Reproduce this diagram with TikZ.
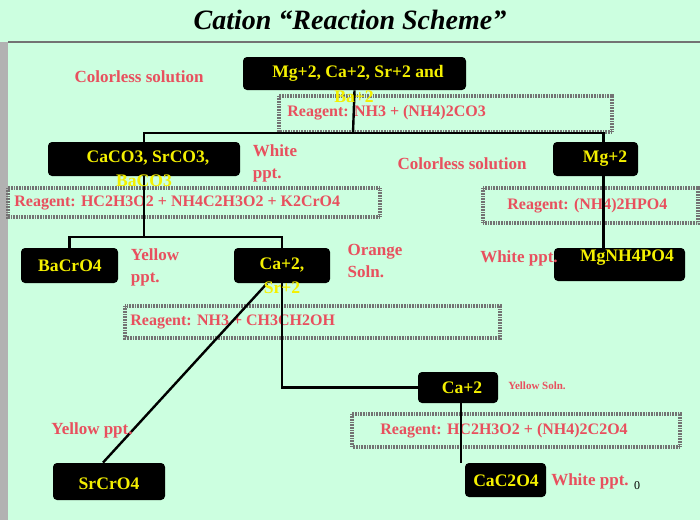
\documentclass[tikz,border=0pt]{standalone}
\usepackage{fontspec}
\setmainfont{Liberation Serif}
\definecolor{mint}{HTML}{CCFFE0}
\definecolor{salmon}{HTML}{E8505E}
\definecolor{ionyel}{HTML}{F4F000}
\begin{document}
\begin{tikzpicture}[x=0.5pt,y=-0.5pt]
	\tikzset{ion/.style={fill=black, rounded corners=2pt, inner sep=0pt},
        ionlbl/.style={text=ionyel, font=\bfseries\fontsize{8.8}{10}\selectfont, inner sep=0pt},
        note/.style={text=salmon, font=\bfseries\fontsize{8.5}{11}\selectfont, inner sep=0pt, align=left},
        reag/.style={draw=black!55, line width=1.6pt, dash pattern=on 0.4pt off 0.4pt},
        rlbl/.style={text=salmon, font=\bfseries\fontsize{8}{9}\selectfont, inner sep=0pt, anchor=west},
        link/.style={line width=1.2pt}
     }
	\useasboundingbox (0,0) rectangle (700,520);
	\fill[mint] (0,0) rectangle (700,520);
	\fill[black!30] (0,42) rectangle (8,520);
	\draw[black!55, line width=1pt] (8,42) -- (700,42);
	\node (title) at (350,20) {\bfseries\itshape\fontsize{14}{16}\selectfont Cation “Reaction Scheme”};
	
	% reagent boxes
	\draw[reag] (279,96) rectangle (612,132);
	\draw[reag] (8,188) rectangle (380,217);
	\draw[reag] (483,188) rectangle (698,223);
	\draw[reag] (125,306) rectangle (500,338);
	\draw[reag] (352,414) rectangle (680,447);
	\node[rlbl] (r1) at (287,113) {Reagent: NH3 + (NH4)2CO3};
	\node[rlbl] (r2) at (14,203) {Reagent: HC2H3O2 + NH4C2H3O2 + K2CrO4};
	\node[rlbl] (r3) at (507,206) {Reagent: (NH4)2HPO4};
	\node[rlbl] (r4) at (130,322) {Reagent: NH3 + CH3CH2OH};
	\node[rlbl] (r5) at (380,431) {Reagent: HC2H3O2 + (NH4)2C2O4};
	
	% ion boxes
	\node[ion, minimum width=111.5pt, minimum height=16.5pt] (all) at (354.5,73.5) {};
	\node[ion, minimum width=96pt, minimum height=17pt] (carb) at (144,159) {};
	\node[ion, minimum width=42.5pt, minimum height=17pt] (mg) at (595.5,159) {};
	\node[ion, minimum width=48.5pt, minimum height=17.5pt] (bacro) at (69.5,265.5) {};
	\node[ion, minimum width=48pt, minimum height=17.5pt] (casr) at (282,265.5) {};
	\node[ion, minimum width=65.5pt, minimum height=16.5pt] (mgpo) at (619.5,264.5) {};
	\node[ion, minimum width=40pt, minimum height=15.5pt] (ca) at (458,387.5) {};
	\node[ion, minimum width=40.5pt, minimum height=17pt] (cacox) at (505.5,480) {};
	\node[ion, minimum width=56pt, minimum height=18.5pt] (srcro) at (109,481.5) {};
	
	% connectors
	\coordinate (j1) at (353,133);
	\coordinate (j2) at (144,237);
	\coordinate (j3) at (282,387.5);
	\draw[link] (all.south) -- (j1);
	\draw[link] (carb.north) |- (j1) -| ([xshift=4pt]mg.north);
	\draw[link] (carb.south) -- (j2);
	\draw[link] (bacro.north) |- (j2) -| (casr.north);
	\draw[link] ([xshift=4pt]mg.south) -- ([xshift=4pt]mg.south |- mgpo.north);
	\draw[link] (casr.south) -- (j3) -- (ca.west);
	\draw[link] ([xshift=-7.5pt]casr.south) -- (srcro.north -| 103,0);
	\draw[link] ([xshift=1.5pt]ca.south) -- ([xshift=1.5pt]ca.south |- cacox.north);
	
	% ion labels
	\node[ionlbl] (l1) at (358,73) {Mg+2, Ca+2, Sr+2 and};
	\node[ionlbl] (l1b) at (354,97) {Ba+2};
	\node[ionlbl] (l2) at (148,158) {CaCO3, SrCO3,};
	\node[ionlbl] (l2b) at (144,181) {BaCO3};
	\node[ionlbl] (l3) at (605,159) {Mg+2};
	\node[ionlbl] (l4) at (70,266) {BaCrO4};
	\node[ionlbl] (l5) at (282,265) {Ca+2,};
	\node[ionlbl] (l5b) at (282,288) {Sr+2};
	\node[ionlbl] (l6) at (627,258) {MgNH4PO4};
	\node[ionlbl] (l7) at (462,388) {Ca+2};
	\node[ionlbl] (l8) at (109,484) {SrCrO4};
	\node[ionlbl] (l9) at (506,481) {CaC2O4};
	
	% notes
	\node[note] (n1) at (139,77) {Colorless solution};
	\node[note] (n2) at (275,163) {White\\ppt.};
	\node[note] (n3) at (462,164) {Colorless solution};
	\node[note] (n4) at (155,267) {Yellow\\ppt.};
	\node[note] (n5) at (375,261) {Orange\\Soln.};
	\node[note] (n6) at (519,258) {White ppt.};
	\node[note, font=\bfseries\fontsize{5.5}{7}\selectfont] (n7) at (537,386) {Yellow Soln.};
	\node[note] (n8) at (92,430) {Yellow ppt.};
	\node[note] (n9) at (590,481) {White ppt.};
	\node[font=\fontsize{6}{7}\selectfont, inner sep=0pt] (n10) at (637,486) {0};
\end{tikzpicture}
\end{document}
